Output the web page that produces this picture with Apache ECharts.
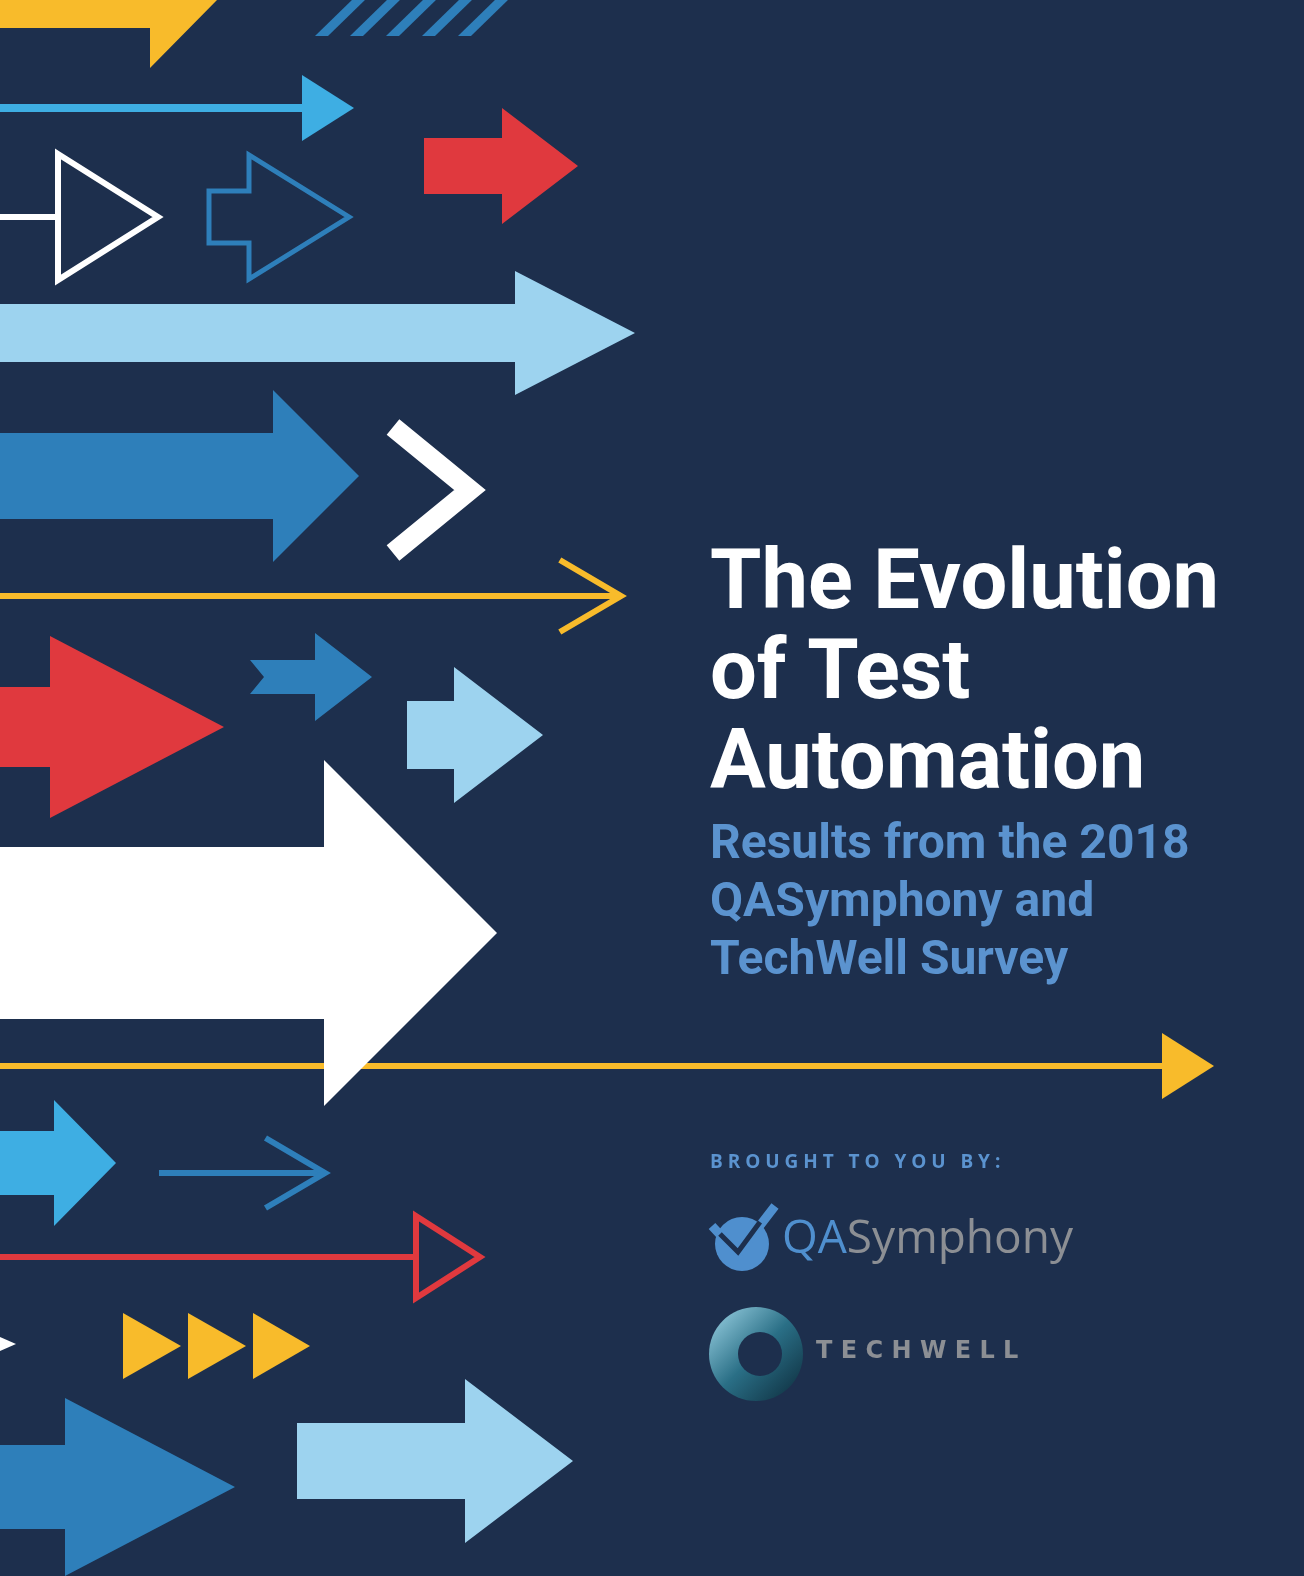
<!DOCTYPE html>
<html>
<head>
<meta charset="utf-8">
<script src="https://cdn.jsdelivr.net/npm/echarts@6/dist/echarts.min.js"></script>
<style>html,body{margin:0;padding:0;background:#1d2f4d}#main{width:1304px;height:1576px}</style>
</head>
<body>
<div id="main"></div>
<script>
// palette
var C = { yellow: '#f8bb2b', sky: '#3eaee3', red: '#e0393e', blue: '#2e7fba', pale: '#9dd3ef', white: '#ffffff' }

// filled block arrows: [centerY, shaftStart, headStart, tip, shaftHalf, headHalf, colour, notch]
var blockArrows = [
  [0, -10, 150, 217, 28, 68, 'yellow', 0],
  [166, 424, 502, 578, 28, 58, 'red', 0],
  [333, -10, 515, 635, 29, 62, 'pale', 0],
  [476, -10, 273, 359, 43, 86, 'blue', 0],
  [727, -10, 50, 224, 40, 91, 'red', 0],
  [677, 250, 315, 372, 17, 44, 'blue', 14],
  [735, 407, 454, 543, 34, 68, 'pale', 0],
  [1163, -10, 54, 116, 32, 63, 'sky', 0],
  [1487, -10, 65, 235, 42, 89, 'blue', 0],
  [1461, 297, 465, 573, 38, 82, 'pale', 0]
]
// yellow line drawn beneath the white arrow
var underLines = [
  [1066, -10, 1162, 1214, 3, 33, 'yellow', 'fill']
]
var bigArrows = [
  [933, -10, 324, 497, 86, 173, 'white', 0]
]
// thin shaft arrows: [centerY, start, headStart, tip, lineHalf, headHalf, colour, headKind]
var lineArrows = [
  [108, -10, 302, 354, 4, 33, 'sky', 'fill'],
  [217, -10, 58, 158, 3, 63, 'white', 'outline'],
  [596, -10, 619, 621, 3, 36, 'yellow', 'chevron'],
  [1173, 159, 323, 325, 3, 35, 'blue', 'chevron'],
  [1257, -10, 416, 480, 3, 41, 'red', 'outline']
]
// outlined block arrow: [centerY, start, headStart, tip, shaftHalf, headHalf, colour]
var outlineArrows = [
  [217, 209, 249, 349, 26, 62, 'blue']
]
// triangles: [centerY, left, tip, half, colour]
var triangles = [
  [1344, -2, 16, 8, 'white'],
  [1346, 123, 181, 33, 'yellow'],
  [1346, 188, 246, 33, 'yellow'],
  [1346, 253, 310, 33, 'yellow']
]
// diagonal stripes at the top: left x of each stripe foot
var stripes = [315, 350, 386, 422, 458]
// white chevron: [centerY, left, tip, half]
var chevrons = [[490, 393, 470, 63]]

function block(list) {
  return {
    type: 'custom', coordinateSystem: 'cartesian2d', silent: true, clip: true,
    data: list.map(function (d, i) { return [i] }),
    renderItem: function (params, api) {
      var d = list[params.dataIndex]
      var y = d[0], p = function (x, yy) { return api.coord([x, yy]) }
      var pts = [p(d[1], y - d[4]), p(d[2], y - d[4]), p(d[2], y - d[5]), p(d[3], y),
        p(d[2], y + d[5]), p(d[2], y + d[4]), p(d[1], y + d[4])]
      if (d[7]) pts.push(p(d[1] + d[7], y))
      return { type: 'polygon', shape: { points: pts }, style: { fill: C[d[6]] } }
    }
  }
}

function lines(list) {
  return {
    type: 'custom', coordinateSystem: 'cartesian2d', silent: true, clip: true,
    data: list.map(function (d, i) { return [i] }),
    renderItem: function (params, api) {
      var d = list[params.dataIndex]
      var y = d[0], col = C[d[6]], p = function (x, yy) { return api.coord([x, yy]) }
      var kids = [{ type: 'polygon', shape: { points: [p(d[1], y - d[4]), p(d[2], y - d[4]), p(d[2], y + d[4]), p(d[1], y + d[4])] }, style: { fill: col } }]
      if (d[7] === 'fill') {
        kids.push({ type: 'polygon', shape: { points: [p(d[2], y - d[5]), p(d[3], y), p(d[2], y + d[5])] }, style: { fill: col } })
      } else if (d[7] === 'outline') {
        kids.push({ type: 'polygon', shape: { points: [p(d[2], y - d[5]), p(d[3], y), p(d[2], y + d[5])] }, style: { fill: 'none', stroke: col, lineWidth: 6, lineJoin: 'miter' } })
      } else {
        kids.push({ type: 'polyline', shape: { points: [p(d[3] - d[5] * 1.7, y - d[5]), p(d[3], y), p(d[3] - d[5] * 1.7, y + d[5])] }, style: { fill: 'none', stroke: col, lineWidth: 6 } })
      }
      return { type: 'group', children: kids }
    }
  }
}

var outlineSeries = {
  type: 'custom', coordinateSystem: 'cartesian2d', silent: true,
  data: outlineArrows.map(function (d, i) { return [i] }),
  renderItem: function (params, api) {
    var d = outlineArrows[params.dataIndex], y = d[0], p = function (x, yy) { return api.coord([x, yy]) }
    var pts = [p(d[1], y - d[4]), p(d[2], y - d[4]), p(d[2], y - d[5]), p(d[3], y),
      p(d[2], y + d[5]), p(d[2], y + d[4]), p(d[1], y + d[4])]
    return { type: 'polygon', shape: { points: pts }, style: { fill: 'none', stroke: C[d[6]], lineWidth: 5 } }
  }
}

var triSeries = {
  type: 'custom', coordinateSystem: 'cartesian2d', silent: true, clip: true,
  data: triangles.map(function (d, i) { return [i] }),
  renderItem: function (params, api) {
    var d = triangles[params.dataIndex], p = function (x, yy) { return api.coord([x, yy]) }
    return { type: 'polygon', shape: { points: [p(d[1], d[0] - d[3]), p(d[2], d[0]), p(d[1], d[0] + d[3])] }, style: { fill: C[d[4]] } }
  }
}

var stripeSeries = {
  type: 'custom', coordinateSystem: 'cartesian2d', silent: true, clip: true,
  data: stripes.map(function (d, i) { return [i] }),
  renderItem: function (params, api) {
    var x = stripes[params.dataIndex], p = function (a, b) { return api.coord([a, b]) }
    return { type: 'polygon', shape: { points: [p(x, 36), p(x + 13, 36), p(x + 52, -2), p(x + 39, -2)] }, style: { fill: C.blue } }
  }
}

var chevronSeries = {
  type: 'custom', coordinateSystem: 'cartesian2d', silent: true,
  data: chevrons.map(function (d, i) { return [i] }),
  renderItem: function (params, api) {
    var d = chevrons[params.dataIndex], p = function (a, b) { return api.coord([a, b]) }
    return { type: 'polyline', shape: { points: [p(d[1], d[0] - d[3]), p(d[2], d[0]), p(d[1], d[0] + d[3])] }, style: { fill: 'none', stroke: C.white, lineWidth: 20 } }
  }
}

var titleLines = ['The Evolution', 'of Test', 'Automation']
var subtitleLines = ['Results from the 2018', 'QASymphony and', 'TechWell Survey']
var titleFont = '"Roboto", sans-serif'

var graphics = []
titleLines.forEach(function (t, i) {
  graphics.push({ type: 'text', left: 710, top: 546 + i * 90, style: { text: t, fill: '#fff', font: 'bold 83px ' + titleFont } })
})
subtitleLines.forEach(function (t, i) {
  graphics.push({ type: 'text', left: 710, top: 822 + i * 58, style: { text: t, fill: '#5b93cf', font: 'bold 48px ' + titleFont } })
})
graphics.push({ type: 'text', left: 710, top: 1153, style: { text: 'B R O U G H T   T O   Y O U   B Y :', fill: '#5b93cf', font: 'bold 19px "Open Sans", sans-serif' } })
// QASymphony logo
graphics.push({ type: 'circle', shape: { cx: 742, cy: 1244, r: 27 }, style: { fill: '#4f8fce' } })
graphics.push({ type: 'polyline', shape: { points: [[712, 1226], [738, 1254], [775, 1206]] }, style: { stroke: '#4f8fce', lineWidth: 9, fill: 'none' } })
graphics.push({ type: 'polyline', shape: { points: [[720, 1234], [738, 1252], [760, 1222]] }, style: { stroke: '#1d2f4d', lineWidth: 5, fill: 'none' } })
graphics.push({ type: 'text', left: 782, top: 1217, style: { rich: { a: { fill: '#4f8fce', font: '46px "Open Sans", sans-serif' }, b: { fill: '#8c8f94', font: '46px "Open Sans", sans-serif' } }, text: '{a|QA}{b|Symphony}' } })
// TechWell logo
graphics.push({ type: 'circle', shape: { cx: 756, cy: 1354, r: 47 }, style: { fill: new echarts.graphic.LinearGradient(0, 0, 1, 1, [{ offset: 0, color: '#9fd6e8' }, { offset: 0.5, color: '#2a6f86' }, { offset: 1, color: '#0c2a3a' }]) } })
graphics.push({ type: 'circle', shape: { cx: 760, cy: 1354, r: 22 }, style: { fill: '#1d2f4d' } })
graphics.push({ type: 'text', left: 816, top: 1340, style: { text: 'T E C H W E L L', fill: '#8c8f94', font: 'bold 24px "DejaVu Sans", sans-serif' } })

var myChart = echarts.init(document.getElementById('main'))
myChart.setOption({
  backgroundColor: '#1d2f4d',
  animation: false,
  grid: { left: 0, right: 0, top: 0, bottom: 0 },
  xAxis: { type: 'value', min: 0, max: 1304, show: false },
  yAxis: { type: 'value', min: 0, max: 1576, inverse: true, show: false },
  series: [stripeSeries, block(blockArrows), lines(underLines), block(bigArrows), lines(lineArrows), outlineSeries, triSeries, chevronSeries],
  graphic: graphics
})
</script>
</body>
</html>
